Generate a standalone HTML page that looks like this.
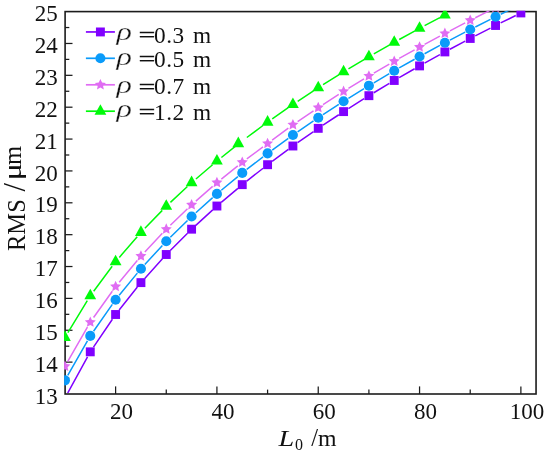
<!DOCTYPE html>
<html><head><meta charset="utf-8"><title>RMS vs L0</title>
<style>html,body{margin:0;padding:0;background:#fff}svg{display:block}text{font-family:"Liberation Serif","Times New Roman",serif;fill:#111}</style></head><body>
<svg width="550" height="454" viewBox="0 0 550 454">
<rect width="550" height="454" fill="#fff"/>
<defs><clipPath id="c"><rect x="64.10" y="10.70" width="470.95" height="382.40"/></clipPath></defs>
<rect x="65.1" y="11.6" width="470.95" height="382.40" fill="none" stroke="#1c1c1c" stroke-width="1.6"/>
<g stroke="#1c1c1c" stroke-width="1.25" fill="none">
<line x1="65.1" y1="378.07" x2="69.30" y2="378.07"/>
<line x1="65.1" y1="362.13" x2="72.50" y2="362.13"/>
<line x1="65.1" y1="346.20" x2="69.30" y2="346.20"/>
<line x1="65.1" y1="330.27" x2="72.50" y2="330.27"/>
<line x1="65.1" y1="314.33" x2="69.30" y2="314.33"/>
<line x1="65.1" y1="298.40" x2="72.50" y2="298.40"/>
<line x1="65.1" y1="282.47" x2="69.30" y2="282.47"/>
<line x1="65.1" y1="266.53" x2="72.50" y2="266.53"/>
<line x1="65.1" y1="250.60" x2="69.30" y2="250.60"/>
<line x1="65.1" y1="234.67" x2="72.50" y2="234.67"/>
<line x1="65.1" y1="218.73" x2="69.30" y2="218.73"/>
<line x1="65.1" y1="202.80" x2="72.50" y2="202.80"/>
<line x1="65.1" y1="186.87" x2="69.30" y2="186.87"/>
<line x1="65.1" y1="170.93" x2="72.50" y2="170.93"/>
<line x1="65.1" y1="155.00" x2="69.30" y2="155.00"/>
<line x1="65.1" y1="139.07" x2="72.50" y2="139.07"/>
<line x1="65.1" y1="123.13" x2="69.30" y2="123.13"/>
<line x1="65.1" y1="107.20" x2="72.50" y2="107.20"/>
<line x1="65.1" y1="91.27" x2="69.30" y2="91.27"/>
<line x1="65.1" y1="75.33" x2="72.50" y2="75.33"/>
<line x1="65.1" y1="59.40" x2="69.30" y2="59.40"/>
<line x1="65.1" y1="43.47" x2="72.50" y2="43.47"/>
<line x1="65.1" y1="27.53" x2="69.30" y2="27.53"/>
<line x1="115.60" y1="394.0" x2="115.60" y2="386.40"/>
<line x1="166.26" y1="394.0" x2="166.26" y2="389.60"/>
<line x1="216.92" y1="394.0" x2="216.92" y2="386.40"/>
<line x1="267.58" y1="394.0" x2="267.58" y2="389.60"/>
<line x1="318.24" y1="394.0" x2="318.24" y2="386.40"/>
<line x1="368.90" y1="394.0" x2="368.90" y2="389.60"/>
<line x1="419.56" y1="394.0" x2="419.56" y2="386.40"/>
<line x1="470.22" y1="394.0" x2="470.22" y2="389.60"/>
<line x1="520.88" y1="394.0" x2="520.88" y2="386.40"/>
</g>
<g clip-path="url(#c)">
<path d="M67.68,393.09L87.53,356.83M93.47,347.11L112.40,319.22M119.15,310.04L137.38,287.09M144.75,278.39L162.44,258.74M170.29,250.48L187.56,233.21M195.80,225.34L212.71,209.88M221.27,202.35L237.90,188.32M246.73,181.12L263.10,168.23M272.16,161.32L288.33,149.38M297.59,142.74L313.56,131.60M323.00,125.20L338.81,114.75M348.40,108.57L364.07,98.71M373.79,92.75L389.34,83.41M399.17,77.63L414.62,68.75M424.55,63.15L439.90,54.67M449.92,49.24L465.19,41.13M475.29,35.86L490.48,28.08M500.66,22.95L515.77,15.47" fill="none" stroke="#8000ff" stroke-width="1.5"/>
<path d="M67.76,375.39L87.45,340.87M93.54,331.25L112.33,304.43M119.20,295.34L137.33,273.15M144.80,264.54L162.39,245.48M170.34,237.31L187.51,220.52M195.84,212.74L212.67,197.68M221.31,190.25L237.86,176.56M246.76,169.44L263.07,156.86M272.20,150.04L288.29,138.38M297.62,131.82L313.53,120.94M323.02,114.62L338.79,104.40M348.42,98.31L364.05,88.67M373.81,82.78L389.32,73.64M399.19,67.95L414.60,59.26M424.57,53.74L439.88,45.44M449.94,40.09L465.17,32.15M475.31,26.96L490.46,19.34M500.68,14.29L515.75,6.96" fill="none" stroke="#0a9bfa" stroke-width="1.5"/>
<path d="M67.78,361.41L87.43,327.13M93.57,317.54L112.30,291.21M119.24,282.18L137.29,260.48M144.84,251.94L162.35,233.32M170.37,225.22L187.48,208.82M195.87,201.11L212.64,186.38M221.37,179.05L237.80,165.88M246.82,158.91L263.01,146.88M272.16,140.09L288.33,128.10M297.64,121.52L313.51,110.81M323.04,104.55L338.77,94.48M348.44,88.44L364.03,78.93M373.82,73.09L389.31,64.06M399.21,58.41L414.58,49.81M424.58,44.33L439.87,36.12M449.95,30.80L465.16,22.93M475.32,17.76L490.45,10.20M500.68,5.17L515.75,-2.11" fill="none" stroke="#e06cf3" stroke-width="1.5"/>
<path d="M67.90,332.55L87.31,300.63M93.67,291.18L112.20,266.28M119.32,257.39L137.21,236.67M144.90,228.26L162.29,210.37M170.43,202.40L187.42,186.57M195.92,178.98L212.59,164.72M221.39,157.47L237.78,144.46M246.83,137.52L263.00,125.52M272.25,118.86L288.24,107.71M297.67,101.31L313.48,90.86M323.07,84.70L338.74,74.87M348.46,68.91L364.01,59.62M373.85,53.86L389.28,45.04M399.23,39.47L414.56,31.05M424.60,25.65L439.85,17.61" fill="none" stroke="#00fa0a" stroke-width="1.5"/>
<rect x="60.49" y="393.64" width="8.90" height="8.90" fill="#8000ff"/>
<rect x="85.82" y="347.38" width="8.90" height="8.90" fill="#8000ff"/>
<rect x="111.15" y="310.05" width="8.90" height="8.90" fill="#8000ff"/>
<rect x="136.48" y="278.17" width="8.90" height="8.90" fill="#8000ff"/>
<rect x="161.81" y="250.06" width="8.90" height="8.90" fill="#8000ff"/>
<rect x="187.14" y="224.73" width="8.90" height="8.90" fill="#8000ff"/>
<rect x="212.47" y="201.58" width="8.90" height="8.90" fill="#8000ff"/>
<rect x="237.80" y="180.19" width="8.90" height="8.90" fill="#8000ff"/>
<rect x="263.13" y="160.25" width="8.90" height="8.90" fill="#8000ff"/>
<rect x="288.46" y="141.55" width="8.90" height="8.90" fill="#8000ff"/>
<rect x="313.79" y="123.89" width="8.90" height="8.90" fill="#8000ff"/>
<rect x="339.12" y="107.16" width="8.90" height="8.90" fill="#8000ff"/>
<rect x="364.45" y="91.23" width="8.90" height="8.90" fill="#8000ff"/>
<rect x="389.78" y="76.02" width="8.90" height="8.90" fill="#8000ff"/>
<rect x="415.11" y="61.45" width="8.90" height="8.90" fill="#8000ff"/>
<rect x="440.44" y="47.47" width="8.90" height="8.90" fill="#8000ff"/>
<rect x="465.77" y="34.01" width="8.90" height="8.90" fill="#8000ff"/>
<rect x="491.10" y="21.03" width="8.90" height="8.90" fill="#8000ff"/>
<rect x="516.43" y="8.49" width="8.90" height="8.90" fill="#8000ff"/>
<circle cx="64.94" cy="380.35" r="5.05" fill="#0a9bfa"/>
<circle cx="90.27" cy="335.92" r="5.05" fill="#0a9bfa"/>
<circle cx="115.60" cy="299.76" r="5.05" fill="#0a9bfa"/>
<circle cx="140.93" cy="268.73" r="5.05" fill="#0a9bfa"/>
<circle cx="166.26" cy="241.29" r="5.05" fill="#0a9bfa"/>
<circle cx="191.59" cy="216.54" r="5.05" fill="#0a9bfa"/>
<circle cx="216.92" cy="193.88" r="5.05" fill="#0a9bfa"/>
<circle cx="242.25" cy="172.92" r="5.05" fill="#0a9bfa"/>
<circle cx="267.58" cy="153.38" r="5.05" fill="#0a9bfa"/>
<circle cx="292.91" cy="135.04" r="5.05" fill="#0a9bfa"/>
<circle cx="318.24" cy="117.72" r="5.05" fill="#0a9bfa"/>
<circle cx="343.57" cy="101.30" r="5.05" fill="#0a9bfa"/>
<circle cx="368.90" cy="85.68" r="5.05" fill="#0a9bfa"/>
<circle cx="394.23" cy="70.75" r="5.05" fill="#0a9bfa"/>
<circle cx="419.56" cy="56.45" r="5.05" fill="#0a9bfa"/>
<circle cx="444.89" cy="42.73" r="5.05" fill="#0a9bfa"/>
<circle cx="470.22" cy="29.52" r="5.05" fill="#0a9bfa"/>
<circle cx="495.55" cy="16.78" r="5.05" fill="#0a9bfa"/>
<circle cx="520.88" cy="4.47" r="5.05" fill="#0a9bfa"/>
<polygon points="64.94,360.56 66.58,364.10 70.46,364.56 67.59,367.22 68.35,371.05 64.94,369.14 61.53,371.05 62.29,367.22 59.42,364.56 63.30,364.10" fill="#e06cf3"/>
<polygon points="90.27,316.38 91.91,319.93 95.79,320.39 92.92,323.04 93.68,326.87 90.27,324.97 86.86,326.87 87.62,323.04 84.75,320.39 88.63,319.93" fill="#e06cf3"/>
<polygon points="115.60,280.76 117.24,284.31 121.12,284.77 118.25,287.42 119.01,291.25 115.60,289.35 112.19,291.25 112.95,287.42 110.08,284.77 113.96,284.31" fill="#e06cf3"/>
<polygon points="140.93,250.29 142.57,253.84 146.45,254.30 143.58,256.95 144.34,260.79 140.93,258.88 137.52,260.79 138.28,256.95 135.41,254.30 139.29,253.84" fill="#e06cf3"/>
<polygon points="166.26,223.37 167.90,226.92 171.78,227.38 168.91,230.03 169.67,233.86 166.26,231.95 162.85,233.86 163.61,230.03 160.74,227.38 164.62,226.92" fill="#e06cf3"/>
<polygon points="191.59,199.07 193.23,202.62 197.11,203.08 194.24,205.73 195.00,209.56 191.59,207.65 188.18,209.56 188.94,205.73 186.07,203.08 189.95,202.62" fill="#e06cf3"/>
<polygon points="216.92,176.82 218.56,180.36 222.44,180.82 219.57,183.48 220.33,187.31 216.92,185.40 213.51,187.31 214.27,183.48 211.40,180.82 215.28,180.36" fill="#e06cf3"/>
<polygon points="242.25,156.51 243.89,160.06 247.77,160.52 244.90,163.18 245.66,167.01 242.25,165.10 238.84,167.01 239.60,163.18 236.73,160.52 240.61,160.06" fill="#e06cf3"/>
<polygon points="267.58,137.68 269.22,141.23 273.10,141.69 270.23,144.34 270.99,148.17 267.58,146.27 264.17,148.17 264.93,144.34 262.06,141.69 265.94,141.23" fill="#e06cf3"/>
<polygon points="292.91,118.91 294.55,122.45 298.43,122.91 295.56,125.57 296.32,129.40 292.91,127.49 289.50,129.40 290.26,125.57 287.39,122.91 291.27,122.45" fill="#e06cf3"/>
<polygon points="318.24,101.83 319.88,105.37 323.76,105.83 320.89,108.49 321.65,112.32 318.24,110.41 314.83,112.32 315.59,108.49 312.72,105.83 316.60,105.37" fill="#e06cf3"/>
<polygon points="343.57,85.61 345.21,89.16 349.09,89.62 346.22,92.27 346.98,96.10 343.57,94.20 340.16,96.10 340.92,92.27 338.05,89.62 341.93,89.16" fill="#e06cf3"/>
<polygon points="368.90,70.16 370.54,73.71 374.42,74.17 371.55,76.82 372.31,80.65 368.90,78.75 365.49,80.65 366.25,76.82 363.38,74.17 367.26,73.71" fill="#e06cf3"/>
<polygon points="394.23,55.39 395.87,58.94 399.75,59.40 396.88,62.05 397.64,65.88 394.23,63.98 390.82,65.88 391.58,62.05 388.71,59.40 392.59,58.94" fill="#e06cf3"/>
<polygon points="419.56,41.23 421.20,44.78 425.08,45.24 422.21,47.89 422.97,51.72 419.56,49.81 416.15,51.72 416.91,47.89 414.04,45.24 417.92,44.78" fill="#e06cf3"/>
<polygon points="444.89,27.62 446.53,31.17 450.41,31.63 447.54,34.28 448.30,38.11 444.89,36.20 441.48,38.11 442.24,34.28 439.37,31.63 443.25,31.17" fill="#e06cf3"/>
<polygon points="470.22,14.51 471.86,18.05 475.74,18.51 472.87,21.17 473.63,25.00 470.22,23.09 466.81,25.00 467.57,21.17 464.70,18.51 468.58,18.05" fill="#e06cf3"/>
<polygon points="495.55,1.85 497.19,5.40 501.07,5.86 498.20,8.51 498.96,12.34 495.55,10.44 492.14,12.34 492.90,8.51 490.03,5.86 493.91,5.40" fill="#e06cf3"/>
<polygon points="520.88,-10.39 522.52,-6.84 526.40,-6.38 523.53,-3.73 524.29,0.11 520.88,-1.80 517.47,0.11 518.23,-3.73 515.36,-6.38 519.24,-6.84" fill="#e06cf3"/>
<polygon points="64.94,330.35 59.04,340.95 70.84,340.95" fill="#00fa0a"/>
<polygon points="90.27,288.69 84.37,299.29 96.17,299.29" fill="#00fa0a"/>
<polygon points="115.60,254.64 109.70,265.24 121.50,265.24" fill="#00fa0a"/>
<polygon points="140.93,225.28 135.03,235.88 146.83,235.88" fill="#00fa0a"/>
<polygon points="166.26,199.22 160.36,209.82 172.16,209.82" fill="#00fa0a"/>
<polygon points="191.59,175.61 185.69,186.21 197.49,186.21" fill="#00fa0a"/>
<polygon points="216.92,153.95 211.02,164.55 222.82,164.55" fill="#00fa0a"/>
<polygon points="238.30,136.53 232.40,147.13 244.20,147.13" fill="#00fa0a"/>
<polygon points="267.58,115.06 261.68,125.66 273.48,125.66" fill="#00fa0a"/>
<polygon points="292.91,97.38 287.01,107.98 298.81,107.98" fill="#00fa0a"/>
<polygon points="318.24,80.66 312.34,91.26 324.14,91.26" fill="#00fa0a"/>
<polygon points="343.57,64.77 337.67,75.37 349.47,75.37" fill="#00fa0a"/>
<polygon points="368.90,49.63 363.00,60.23 374.80,60.23" fill="#00fa0a"/>
<polygon points="394.23,35.14 388.33,45.74 400.13,45.74" fill="#00fa0a"/>
<polygon points="419.56,21.24 413.66,31.84 425.46,31.84" fill="#00fa0a"/>
<polygon points="444.89,7.88 438.99,18.48 450.79,18.48" fill="#00fa0a"/>
</g>
<text x="57.8" y="403.60" font-size="23" text-anchor="end">13</text>
<text x="57.8" y="371.73" font-size="23" text-anchor="end">14</text>
<text x="57.8" y="339.87" font-size="23" text-anchor="end">15</text>
<text x="57.8" y="308.00" font-size="23" text-anchor="end">16</text>
<text x="57.8" y="276.13" font-size="23" text-anchor="end">17</text>
<text x="57.8" y="244.27" font-size="23" text-anchor="end">18</text>
<text x="57.8" y="212.40" font-size="23" text-anchor="end">19</text>
<text x="57.8" y="180.53" font-size="23" text-anchor="end">20</text>
<text x="57.8" y="148.67" font-size="23" text-anchor="end">21</text>
<text x="57.8" y="116.80" font-size="23" text-anchor="end">22</text>
<text x="57.8" y="84.93" font-size="23" text-anchor="end">23</text>
<text x="57.8" y="53.07" font-size="23" text-anchor="end">24</text>
<text x="57.8" y="21.20" font-size="23" text-anchor="end">25</text>
<text x="121.60" y="418.6" font-size="23" text-anchor="middle">20</text>
<text x="222.92" y="418.6" font-size="23" text-anchor="middle">40</text>
<text x="324.24" y="418.6" font-size="23" text-anchor="middle">60</text>
<text x="425.56" y="418.6" font-size="23" text-anchor="middle">80</text>
<text x="526.88" y="418.6" font-size="23" text-anchor="middle">100</text>
<g transform="translate(25.2,251) rotate(-90)">
<text x="0" y="0" font-size="24.5">RMS</text>
<text x="59.6" y="0.2" font-size="31">/</text>
<text transform="translate(70.8,-4.1) scale(1.3,1)" font-size="24.5">μ</text>
<text x="86" y="-4.1" font-size="24.5">m</text>
</g>
<text transform="translate(278.6,445.6) scale(1.2,1)" font-size="23.5" font-style="italic">L</text>
<text x="295" y="449.7" font-size="16">0</text>
<text x="311.2" y="445.6" font-size="24.5">/</text>
<text x="317.9" y="445.6" font-size="23.8">m</text>
<line x1="85.9" y1="31.95" x2="114.9" y2="31.95" stroke="#8000ff" stroke-width="1.7"/>
<rect x="95.95" y="27.50" width="8.90" height="8.90" fill="#8000ff"/>
<text transform="translate(116.4,39.75) scale(1.4,1.1)" font-size="23" font-style="italic" stroke="#fff" stroke-width="0.3">ρ</text>
<text transform="translate(138.4,41.95) scale(1.25,0.9)" font-size="24" stroke="#111" stroke-width="0.35">=</text>
<text x="154" y="42.55" font-size="23.3" letter-spacing="0.5">0.3</text>
<text x="192.9" y="42.55" font-size="23.3">m</text>
<line x1="85.9" y1="58.3" x2="114.9" y2="58.3" stroke="#0a9bfa" stroke-width="1.7"/>
<circle cx="100.40" cy="58.30" r="5.05" fill="#0a9bfa"/>
<text transform="translate(116.4,65.20) scale(1.4,1.1)" font-size="23" font-style="italic" stroke="#fff" stroke-width="0.3">ρ</text>
<text transform="translate(138.4,66.30) scale(1.25,0.9)" font-size="24" stroke="#111" stroke-width="0.35">=</text>
<text x="154" y="66.90" font-size="23.3" letter-spacing="0.5">0.5</text>
<text x="192.9" y="66.90" font-size="23.3">m</text>
<line x1="85.9" y1="84.8" x2="114.9" y2="84.8" stroke="#e06cf3" stroke-width="1.7"/>
<polygon points="100.40,79.00 102.04,82.55 105.92,83.01 103.05,85.66 103.81,89.49 100.40,87.58 96.99,89.49 97.75,85.66 94.88,83.01 98.76,82.55" fill="#e06cf3"/>
<text transform="translate(116.4,93.20) scale(1.4,1.1)" font-size="23" font-style="italic" stroke="#fff" stroke-width="0.3">ρ</text>
<text transform="translate(138.4,93.70) scale(1.25,0.9)" font-size="24" stroke="#111" stroke-width="0.35">=</text>
<text x="154" y="94.30" font-size="23.3" letter-spacing="0.5">0.7</text>
<text x="192.9" y="94.30" font-size="23.3">m</text>
<line x1="85.9" y1="111.2" x2="114.9" y2="111.2" stroke="#00fa0a" stroke-width="1.7"/>
<polygon points="100.40,104.13 94.50,114.73 106.30,114.73" fill="#00fa0a"/>
<text transform="translate(116.4,117.10) scale(1.4,1.1)" font-size="23" font-style="italic" stroke="#fff" stroke-width="0.3">ρ</text>
<text transform="translate(138.4,118.90) scale(1.25,0.9)" font-size="24" stroke="#111" stroke-width="0.35">=</text>
<text x="154" y="119.50" font-size="23.3" letter-spacing="0.5">1.2</text>
<text x="192.9" y="119.50" font-size="23.3">m</text>
</svg></body></html>
